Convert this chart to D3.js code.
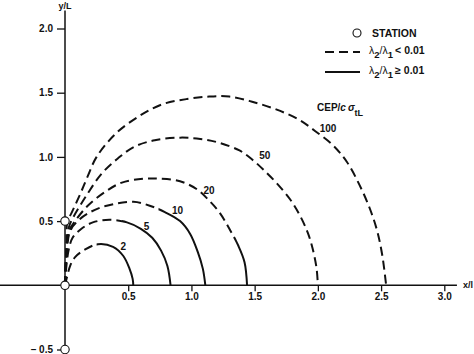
<!DOCTYPE html>
<html lang="en">
<head>
  <meta charset="UTF-8">
  <title>CEP contours</title>
  <style>
    body { margin: 0; background: #fff; }
    svg { display: block; font-family: "Liberation Sans", Arial, sans-serif; }
    .tick text, .lbl { font-size: 10px; font-weight: bold; fill: #111; }
    .tick line { stroke: #111; stroke-width: 1.3; }
    .contour { fill: none; stroke: #111; stroke-width: 2; }
  </style>
</head>
<body>
  <script src="https://d3js.org/d3.v7.min.js"></script>
  <script>
    // tick values
    const xTicks = [0.5, 1.0, 1.5, 2.0, 2.5, 3.0];
    const yTicks = [-0.5, 0.5, 1.0, 1.5, 2.0];
    const stations = [[0, 0], [0, 0.5], [0, -0.5]];

    // CEP/c·sigma levels and the contour points (x/L, y/L)
    const cepLevels = [2, 5, 10, 20, 50, 100];
    const cep2 = [[0,0],[0.015,0.06],[0.04,0.15],[0.08,0.22],[0.16,0.28],[0.26,0.32],[0.38,0.3],[0.46,0.23],[0.51,0.13],[0.535,0.05],[0.54,0]];
    const cep5 = [[0,0],[0.01,0.14],[0.03,0.28],[0.06,0.37],[0.13,0.44],[0.22,0.49],[0.35,0.51],[0.49,0.49],[0.6,0.44],[0.69,0.37],[0.76,0.27],[0.81,0.15],[0.835,0]];
    const cep10 = [[0,0],[0.01,0.2],[0.04,0.42],[0.1,0.5],[0.2,0.57],[0.33,0.62],[0.54,0.65],[0.67,0.62],[0.79,0.57],[0.91,0.5],[0.99,0.4],[1.05,0.26],[1.09,0.13],[1.11,0]];
    const cep20 = [[0,0],[0.01,0.25],[0.03,0.42],[0.08,0.5],[0.18,0.62],[0.32,0.73],[0.45,0.8],[0.62,0.83],[0.75,0.83],[0.91,0.81],[1.04,0.75],[1.13,0.67],[1.22,0.57],[1.3,0.44],[1.37,0.31],[1.42,0.18],[1.44,0]];
    const cep50 = [[0,0],[0.01,0.25],[0.03,0.45],[0.06,0.52],[0.17,0.7],[0.29,0.87],[0.42,0.99],[0.55,1.08],[0.71,1.13],[0.91,1.15],[1.07,1.14],[1.22,1.11],[1.38,1.05],[1.48,0.98],[1.57,0.9],[1.67,0.8],[1.78,0.67],[1.86,0.54],[1.92,0.41],[1.96,0.28],[1.99,0.13],[2.0,0]];
    const cep100 = [[0,0],[0.01,0.28],[0.02,0.5],[0.05,0.56],[0.12,0.71],[0.18,0.85],[0.25,1.0],[0.4,1.18],[0.59,1.32],[0.77,1.41],[0.96,1.45],[1.14,1.47],[1.3,1.47],[1.48,1.43],[1.67,1.37],[1.85,1.29],[1.98,1.2],[2.12,1.09],[2.23,0.96],[2.33,0.78],[2.41,0.6],[2.47,0.42],[2.51,0.23],[2.54,0]];
    const contours = [cep2, cep5, cep10, cep20, cep50, cep100];

    // where each contour turns from dashed to solid (x/L), null = all dashed
    const solidFrom = [0.25, 0.45, 0.74, 1.36, null, null];
    // label anchors in data units
    const labelAt = [[0.46, 0.30], [0.645, 0.46], [0.89, 0.585], [1.14, 0.735], [1.58, 1.01], [2.08, 1.22]];

    const W = 474, H = 354;
    const svg = d3.select('body').append('svg')
      .attr('width', W).attr('height', H)
      .attr('viewBox', `0 0 ${W} ${H}`);

    const x = d3.scaleLinear().domain([0, 3]).range([65, 444.3]);
    const y = d3.scaleLinear().domain([-0.5, 2]).range([349.5, 28.5]);

    // axis lines
    svg.append('line')
      .attr('x1', 0).attr('x2', x(3.1))
      .attr('y1', y(0)).attr('y2', y(0))
      .attr('stroke', '#111').attr('stroke-width', 1.5);
    svg.append('line')
      .attr('x1', x(0)).attr('x2', x(0))
      .attr('y1', y(2.14)).attr('y2', y(-0.5))
      .attr('stroke', '#111').attr('stroke-width', 1.5);

    const xAxis = d3.axisBottom(x).tickValues(xTicks).tickSize(6).tickPadding(2)
      .tickFormat(d3.format('.1f'));
    svg.append('g').attr('transform', `translate(0,${y(0)})`).call(xAxis)
      .call(g => g.select('.domain').remove());

    const yAxis = d3.axisLeft(y).tickValues(yTicks).tickSize(8).tickPadding(4)
      .tickFormat(d => d < 0 ? '\u2013 ' + d3.format('.1f')(-d) : d3.format('.1f')(d));
    svg.append('g').attr('transform', `translate(${x(0)},0)`).call(yAxis)
      .call(g => g.select('.domain').remove());

    svg.append('text').attr('class', 'lbl').attr('x', x(0)).attr('y', 9)
      .attr('text-anchor', 'middle').style('font-size', '9px').text('y/L');
    svg.append('text').attr('class', 'lbl').attr('x', 463).attr('y', y(0) + 3)
      .style('font-size', '9px').text('x/l');

    // contours: dashed copy clipped left of the break, solid copy right of it
    const line = d3.line()
      .x(d => x(d[0])).y(d => y(d[1]))
      .curve(d3.curveCatmullRom.alpha(0.5));
    const defs = svg.append('defs');

    contours.forEach((pts, i) => {
      const brk = solidFrom[i];
      if (brk === null) {
        svg.append('path').attr('class', 'contour').attr('d', line(pts))
          .attr('stroke-dasharray', '9,5');
        return;
      }
      defs.append('clipPath').attr('id', 'dash' + i).append('rect')
        .attr('x', 0).attr('y', 0).attr('width', x(brk)).attr('height', H);
      defs.append('clipPath').attr('id', 'solid' + i).append('rect')
        .attr('x', x(brk)).attr('y', 0).attr('width', W).attr('height', H);
      svg.append('path').attr('class', 'contour').attr('d', line(pts))
        .attr('stroke-dasharray', '9,5').attr('clip-path', `url(#dash${i})`);
      svg.append('path').attr('class', 'contour').attr('d', line(pts))
        .attr('clip-path', `url(#solid${i})`);
    });

    svg.selectAll('.cepLabel')
      .data(cepLevels)
      .join('text')
      .attr('class', 'lbl cepLabel')
      .attr('x', (d, i) => x(labelAt[i][0]))
      .attr('y', (d, i) => y(labelAt[i][1]))
      .attr('dy', '0.35em')
      .attr('text-anchor', 'middle')
      .text(d => d);

    // CEP/c sigma_tL heading
    const cepTitle = svg.append('text').attr('class', 'lbl').attr('x', 317).attr('y', 111);
    cepTitle.append('tspan').text('CEP/');
    cepTitle.append('tspan').style('font-style', 'italic').text('c\u2009\u03c3');
    cepTitle.append('tspan').attr('dy', 5).style('font-size', '9px').text('tL');

    // stations
    svg.selectAll('.station')
      .data(stations)
      .join('circle')
      .attr('class', 'station')
      .attr('cx', d => x(d[0])).attr('cy', d => y(d[1]))
      .attr('r', 4.2)
      .attr('fill', '#fff').attr('stroke', '#111').attr('stroke-width', 1.1);

    // legend
    const legend = svg.append('g');
    legend.append('circle').attr('cx', 357).attr('cy', 33).attr('r', 4)
      .attr('fill', '#fff').attr('stroke', '#111').attr('stroke-width', 1.1);
    legend.append('text').attr('class', 'lbl').attr('x', 372).attr('y', 37)
      .style('font-size', '10.5px').text('STATION');

    const legendRows = [
      { y: 52, dash: '9,5', rel: '<' },
      { y: 72, dash: null, rel: '\u2265' }
    ];
    legendRows.forEach(r => {
      legend.append('line').attr('x1', 325).attr('x2', 360)
        .attr('y1', r.y).attr('y2', r.y)
        .attr('stroke', '#111').attr('stroke-width', 2)
        .attr('stroke-dasharray', r.dash);
      const t = legend.append('text').attr('class', 'lbl').attr('x', 369).attr('y', r.y + 2)
        .style('font-size', '10.5px');
      t.append('tspan').style('font-weight', 'normal').text('\u03bb');
      t.append('tspan').attr('dy', 4).style('font-size', '9.5px').text('2');
      t.append('tspan').attr('dy', -4).style('font-weight', 'normal').text('/\u03bb');
      t.append('tspan').attr('dy', 4).style('font-size', '9.5px').text('1');
      t.append('tspan').attr('dy', -4).text('\u2009' + r.rel + ' 0.01');
    });
  </script>
</body>
</html>
